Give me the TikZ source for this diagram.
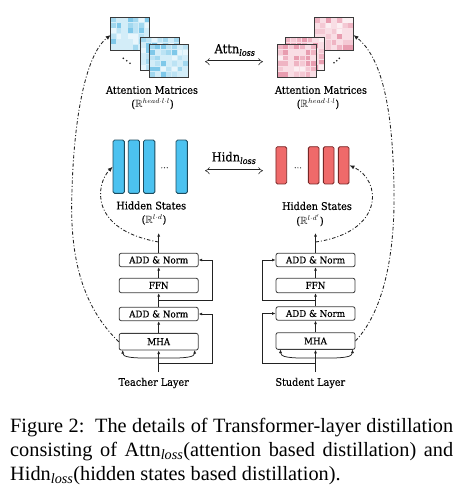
\documentclass[tikz,border=0pt]{standalone}
\usepackage{fontspec}
\usepackage{amssymb}
\setmainfont{Liberation Serif}
\newfontfamily\dfont{DejaVu Serif}[FakeStretch=0.92,FakeBold=0.35]
\usetikzlibrary{arrows.meta}
\definecolor{bbase}{HTML}{D3EDF8}
\definecolor{bc2}{HTML}{BCE3F4}
\definecolor{bc3}{HTML}{A2D8EF}
\definecolor{bc4}{HTML}{7FC8E9}
\definecolor{bc5}{HTML}{E8F6FC}
\definecolor{pbase}{HTML}{F9DEE5}
\definecolor{pc2}{HTML}{F4C9D4}
\definecolor{pc3}{HTML}{EFB4C3}
\definecolor{pc4}{HTML}{E89DB0}
\definecolor{pc5}{HTML}{FCEFF2}
\definecolor{matb}{HTML}{3A3A3A}
\definecolor{tbarfill}{HTML}{4CC2F0}
\definecolor{tbardraw}{HTML}{1D4B5E}
\definecolor{sbarfill}{HTML}{EF6A6A}
\definecolor{sbardraw}{HTML}{772626}
\definecolor{blkc}{HTML}{3C3C3C}
\definecolor{linec}{HTML}{222222}
\newcommand\attnmat[4]{%
  \pgfmathsetseed{#4}%
  \fill[#3base] (#1,#2) rectangle ++(39,33);
  \foreach \i in {0,...,6}{%
    \foreach \j in {0,...,5}{%
      \pgfmathrandominteger{\k}{0}{5}%
      \ifnum\k>1 \fill[#3c\k] ({#1+\i*39/7+0.4},{#2+\j*5.5+0.4}) rectangle ++(4.8,4.7);\fi
    }%
  }%
  \draw[matb, line width=0.8pt] (#1,#2) rectangle ++(39,33);
}
\begin{document}
\begin{tikzpicture}[x=1pt,y=-1pt,
  blk/.style={draw=blkc, line width=0.8pt, rounded corners=2pt, fill=white,
    minimum width=79pt, inner sep=0pt, font=\dfont\fontsize{9.5}{10}\selectfont},
  lbl/.style={inner sep=0pt, font=\dfont\fontsize{10.5}{12}\selectfont},
  tbar/.style={draw=tbardraw, fill=tbarfill, line width=0.8pt, rounded corners=1.5pt,
    minimum width=11.3pt, minimum height=53.3pt, inner sep=0pt},
  sbar/.style={draw=sbardraw, fill=sbarfill, line width=0.8pt, rounded corners=1.5pt,
    minimum width=10.7pt, minimum height=37.3pt, inner sep=0pt},
  sarrow/.style={draw=linec, line width=0.75pt, -{Latex[length=3.6pt,width=3pt]}},
  dashdot/.style={draw=linec, line width=0.85pt, dash pattern=on 3.5pt off 2pt on 1pt off 2pt,
    -{Latex[length=5pt,width=4.2pt]}},
  lossarrow/.style={draw=linec, line width=0.55pt, double=white, double distance=1.9pt,
    {Implies}-{Implies}},
  dotc/.style={fill=linec}
]
\useasboundingbox[fill=white] (0,0) rectangle (474,495);

% ---------- attention matrices ----------
\attnmat{110.7}{17}{b}{11}
\attnmat{140.5}{37}{b}{23}
\attnmat{149.3}{44.3}{b}{37}
\attnmat{314.5}{17.5}{p}{41}
\attnmat{285}{37.3}{p}{53}
\attnmat{277.3}{44.3}{p}{67}
\coordinate (tmat) at (110.7,35);
\coordinate (smat) at (353.5,35);
\foreach \p in {(123.3,58.3),(126.7,60.7),(130,63.3),(334,62.7),(336.7,60.7),(339.3,58.3)}
  \fill[dotc] \p circle (0.9);

\node[lbl] (tattlbl) at (152,90) {Attention Matrices};
\node[lbl] (tattdim) at (152.5,104) {($\mathbb{R}^{head\cdot l\cdot l}$)};
\node[lbl] (sattlbl) at (321,90) {Attention Matrices};
\node[lbl] (sattdim) at (318,104) {($\mathbb{R}^{head\cdot l\cdot l}$)};

% ---------- loss arrows ----------
\coordinate (attnL) at (205,61.7);
\coordinate (attnR) at (263,61.7);
\draw[lossarrow] (attnL) -- (attnR);
\node[lbl, font=\dfont\fontsize{12.5}{13}\selectfont] (attnlbl) at (235,50) {Attn\textsubscript{\itshape loss}};
\coordinate (hidnL) at (205,170.7);
\coordinate (hidnR) at (263,170.7);
\draw[lossarrow] (hidnL) -- (hidnR);
\node[lbl, font=\dfont\fontsize{12.5}{13}\selectfont] (hidnlbl) at (234,158) {Hidn\textsubscript{\itshape loss}};

% ---------- hidden states ----------
\node[tbar] (tb1) at (118.7,166.7) {};
\node[tbar] (tb2) at (133.9,166.7) {};
\node[tbar] (tb3) at (149.2,166.7) {};
\node[tbar] (tb4) at (181.7,166.7) {};
\node[sbar] (sb1) at (281.3,165.3) {};
\node[sbar] (sb2) at (313.7,165.3) {};
\node[sbar] (sb3) at (328.7,165.3) {};
\node[sbar] (sb4) at (343.7,165.3) {};
\foreach \x in {161.8,164.5,167.2,295.2,297.9,300.6}
  \fill[dotc] (\x,167.8) circle (0.6);

\node[lbl] (thidlbl) at (151.3,205.5) {Hidden States};
\node[lbl] (thiddim) at (154,219.5) {($\mathbb{R}^{l\cdot d}$)};
\node[lbl] (shidlbl) at (317,206) {Hidden States};
\node[lbl] (shiddim) at (310,220.5) {($\mathbb{R}^{l\cdot d'}$)};

% ---------- teacher layer ----------
\node[blk, minimum height=13.4pt] (tan2) at (158.7,260) {ADD \& Norm};
\node[blk, minimum height=14.4pt] (tffn) at (158.7,285.5) {FFN};
\node[blk, minimum height=13.4pt] (tan1) at (158.7,314) {ADD \& Norm};
\node[blk, minimum height=16.7pt] (tmha) at (158.7,341.7) {MHA};
\coordinate (tin) at (158.7,372);
\coordinate (tout) at (158.7,233);
\coordinate (tr1) at (158.7,363.3);
\coordinate (tr2) at (158.7,300.3);
\coordinate (tsplit) at (158.7,358);
\coordinate (tql) at (122.7,350);
\coordinate (tqr) at (194.7,350);
\draw[sarrow] (tin) -- (tmha.south);
\draw[sarrow] (tmha) -- (tan1);
\draw[sarrow] (tan1) -- (tffn);
\draw[sarrow] (tffn) -- (tan2);
\draw[sarrow] (tan2) -- (tout);
\draw[sarrow] (tr1) -- ++(53.3,0) |- (tan1.east);
\draw[sarrow] (tr2) -- ++(53.3,0) |- (tan2.east);
\draw[sarrow] (tsplit) .. controls (130,358.5) and (122.7,357) .. (tql);
\draw[sarrow] (tsplit) .. controls (187.4,358.5) and (194.7,357) .. (tqr);
\node[lbl] (tlayer) at (153.7,383) {Teacher Layer};

% ---------- student layer ----------
\node[blk, minimum height=13.4pt] (san2) at (315.5,260) {ADD \& Norm};
\node[blk, minimum height=14.4pt] (sffn) at (315.5,285.5) {FFN};
\node[blk, minimum height=13.4pt] (san1) at (315.5,313.5) {ADD \& Norm};
\node[blk, minimum height=16.7pt] (smha) at (315.5,341) {MHA};
\coordinate (sin) at (315.5,372);
\coordinate (sout) at (315.5,233);
\coordinate (sr1) at (315.5,363.3);
\coordinate (sr2) at (315.5,300.5);
\coordinate (ssplit) at (315.5,358);
\coordinate (sql) at (280.5,349.4);
\coordinate (sqr) at (352.5,349.4);
\draw[sarrow] (sin) -- (smha.south);
\draw[sarrow] (smha) -- (san1);
\draw[sarrow] (san1) -- (sffn);
\draw[sarrow] (sffn) -- (san2);
\draw[sarrow] (san2) -- (sout);
\draw[sarrow] (sr1) -- ++(-53.5,0) |- (san1.west);
\draw[sarrow] (sr2) -- ++(-53.5,0) |- (san2.west);
\draw[sarrow] (ssplit) .. controls (288,358.5) and (280.5,357) .. (sql);
\draw[sarrow] (ssplit) .. controls (345,358.5) and (352.5,357) .. (sqr);
\node[lbl] (slayer) at (310.3,383) {Student Layer};

% ---------- dash-dot distillation paths ----------
\draw[dashdot] (tmha.west) .. controls (75,300) and (70,240) .. (72,190)
  .. controls (74,120) and (85,55) .. (tmat);
\coordinate (tstart) at (158.7,242);
\draw[dashdot] (tstart) .. controls (90,230) and (95,185) .. (tb1.west);
\draw[dashdot] (smha.east) .. controls (385,310) and (395,250) .. (394,190)
  .. controls (393,120) and (385,60) .. (smat);
\coordinate (sstart) at (315.5,242);
\draw[dashdot] (sstart) .. controls (385,232) and (382,180) .. (sb4.east);

% ---------- caption ----------
\node[anchor=base west, inner sep=0pt, font=\fontsize{20.3}{24}\selectfont] (cap1) at (10,432.7)
  {\hbox to 443pt{Figure 2:\hskip 0.35em plus 1em The details of Transformer-layer distillation}};
\node[anchor=base west, inner sep=0pt, font=\fontsize{20.3}{24}\selectfont] (cap2) at (10,456.7)
  {\hbox to 443pt{consisting of Attn\textsubscript{\itshape loss}(attention based distillation) and}};
\node[anchor=base west, inner sep=0pt, font=\fontsize{20.3}{24}\selectfont] (cap3) at (10,480.7)
  {Hidn\textsubscript{\itshape loss}(hidden states based distillation).};
\end{tikzpicture}
\end{document}
